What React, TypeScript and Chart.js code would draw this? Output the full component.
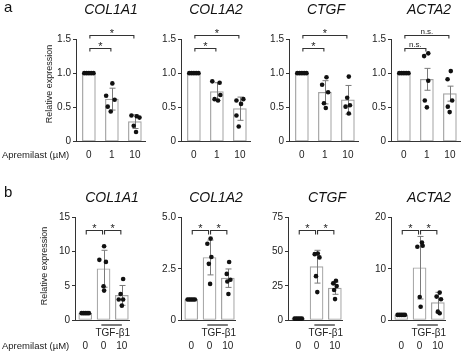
import React, { useEffect, useRef } from "react";
import { Chart, registerables } from "chart.js";
Chart.register(...registerables);

const FONT = '"Liberation Sans", Arial, Helvetica, sans-serif';

// ---------- shared categories ----------
const doseLabels = ["0", "1", "10"];
const tgfDoseLabels = ["0", "0", "10"];
const ctrlJitter = [-0.2, -0.1, 0, 0.1, 0.2];

// ---------- panel a (Apremilast only) ----------
const aTicks = [0, 0.5, 1.0, 1.5];
const aTickLabels = ["0", "0.5", "1.0", "1.5"];
const aSig = [[0, 1, "*"], [0, 2, "*"]];
const aNs = [[0, 1, "n.s."], [0, 2, "n.s."]];

const aCol1a1Mean = [1.0, 0.62, 0.29];
const aCol1a1Err = [0, 0.16, 0.1];
const aCol1a1Pts = [[1, 1, 1, 1, 1], [0.85, 0.67, 0.61, 0.51, 0.44], [0.38, 0.37, 0.35, 0.23, 0.14]];
const aCol1a1Jit = [ctrlJitter, [0.02, -0.25, 0.12, -0.18, -0.05], [-0.15, 0.08, 0.2, -0.05, 0.05]];

const aCol1a2Mean = [1.0, 0.73, 0.48];
const aCol1a2Err = [0, 0.13, 0.17];
const aCol1a2Pts = [[1, 1, 1, 1, 1], [0.88, 0.86, 0.68, 0.62, 0.6], [0.62, 0.6, 0.55, 0.38, 0.22]];
const aCol1a2Jit = [ctrlJitter, [-0.2, 0.12, 0.15, -0.1, 0.05], [0.15, -0.15, 0.05, -0.15, -0.05]];

const aCtgfMean = [1.0, 0.72, 0.61];
const aCtgfErr = [0, 0.17, 0.21];
const aCtgfPts = [[1, 1, 1, 1, 1], [0.94, 0.83, 0.72, 0.56, 0.49], [0.95, 0.64, 0.53, 0.51, 0.41]];
const aCtgfJit = [ctrlJitter, [0.07, -0.12, 0.14, -0.04, 0.04], [0.04, -0.03, 0.09, -0.1, 0.04]];

const aActa2Mean = [1.0, 0.91, 0.7];
const aActa2Err = [0, 0.16, 0.11];
const aActa2Pts = [[1, 1, 1, 1, 1], [1.25, 1.29, 0.89, 0.6, 0.5], [1.03, 0.91, 0.6, 0.51, 0.43]];
const aActa2Jit = [ctrlJitter, [-0.12, 0.06, 0.06, -0.09, 0], [0.04, -0.1, 0.1, -0.09, -0.01]];

// ---------- panel b (TGF-β1 ± Apremilast) ----------
const bSig = [[0, 1, "*"], [1, 2, "*"]];

const bCol1a1Ticks = [0, 5, 10, 15];
const bCol1a1TickLabels = ["0", "5", "10", "15"];
const bCol1a1Mean = [1.0, 7.5, 3.6];
const bCol1a1Err = [0, 2.7, 1.45];
const bCol1a1Pts = [[1, 1, 1, 1, 1], [8.8, 8.5, 10.8, 4.95, 4.3], [6.0, 3.8, 3.0, 3.0, 2.1]];
const bCol1a1Jit = [ctrlJitter, [-0.23, 0.13, 0.03, 0, 0.03], [0.07, -0.07, -0.17, 0.07, 0]];

const bCol1a2Ticks = [0, 2.5, 5];
const bCol1a2TickLabels = ["0", "2.5", "5.0"];
const bCol1a2Mean = [1.0, 3.05, 2.04];
const bCol1a2Err = [0, 0.85, 0.45];
const bCol1a2Pts = [[1, 1, 1, 1, 1], [3.72, 3.97, 3.07, 2.74, 1.76], [2.83, 2.25, 1.96, 1.88, 1.27]];
const bCol1a2Jit = [ctrlJitter, [-0.12, 0.06, 0.1, -0.04, 0.03], [0.07, -0.06, 0.14, -0.03, 0.03]];

const bCtgfTicks = [0, 25, 50, 75];
const bCtgfTickLabels = ["0", "25", "50", "75"];
const bCtgfMean = [1.0, 39, 23.3];
const bCtgfErr = [0, 12, 4.5];
const bCtgfPts = [[1, 1, 1, 1, 1], [48.2, 48.7, 45.8, 32.1, 20.4], [28.7, 26.8, 24.8, 21.9, 15.3]];
const bCtgfJit = [ctrlJitter, [-0.1, 0.07, 0.16, -0.03, 0.04], [0.06, -0.09, 0.1, -0.04, 0.01]];

const bActa2Ticks = [0, 10, 20];
const bActa2TickLabels = ["0", "10", "20"];
const bActa2Mean = [1.0, 10.2, 3.4];
const bActa2Err = [0, 6.1, 2.0];
const bActa2Pts = [[1, 1, 1, 1, 1], [15.1, 14.3, 14.5, 4.5, 2.6], [5.35, 4.57, 4.05, 1.63, 1.31]];
const bActa2Jit = [ctrlJitter, [0.13, -0.12, 0.17, 0.01, 0.06], [0.1, -0.07, 0.17, 0, 0.1]];

// ---------- layout (positions / styles) ----------
const ROW_H = 176;
const Y_AXIS_W = 30;
const AREA_W = 69;
const RIGHT_PAD = 4;

type Spec = {
  title: string;
  axisX: number;
  rowTop: number;
  chartTop: number;
  chartBottom: number;
  xPad: number;
  yTicks: number[];
  yLabels: string[];
  xLabels: string[];
  mean: number[];
  err: number[];
  pts: number[][];
  jit: number[][];
  sig: any[];
  levels: number[];
  hook: number;
  tgf: boolean;
};

const aBase = { rowTop: 0, chartTop: 39, chartBottom: 141.5, xPad: 7.5, yTicks: aTicks, yLabels: aTickLabels, xLabels: doseLabels, levels: [0.917, 1.035], hook: 3, tgf: false };
const bBase = { rowTop: 176, chartTop: 41.5, chartBottom: 144, xPad: 20, xLabels: tgfDoseLabels, sig: bSig, levels: [0.88, 0.88], hook: 4, tgf: true };

const specs: Spec[] = [
  { ...aBase, title: "COL1A1", axisX: 75.5, mean: aCol1a1Mean, err: aCol1a1Err, pts: aCol1a1Pts, jit: aCol1a1Jit, sig: aSig },
  { ...aBase, title: "COL1A2", axisX: 181, mean: aCol1a2Mean, err: aCol1a2Err, pts: aCol1a2Pts, jit: aCol1a2Jit, sig: aSig },
  { ...aBase, title: "CTGF", axisX: 288.5, mean: aCtgfMean, err: aCtgfErr, pts: aCtgfPts, jit: aCtgfJit, sig: aSig },
  { ...aBase, title: "ACTA2", axisX: 391, mean: aActa2Mean, err: aActa2Err, pts: aActa2Pts, jit: aActa2Jit, sig: aNs },
  { ...bBase, title: "COL1A1", axisX: 74.5, yTicks: bCol1a1Ticks, yLabels: bCol1a1TickLabels, mean: bCol1a1Mean, err: bCol1a1Err, pts: bCol1a1Pts, jit: bCol1a1Jit },
  { ...bBase, title: "COL1A2", axisX: 181, yTicks: bCol1a2Ticks, yLabels: bCol1a2TickLabels, mean: bCol1a2Mean, err: bCol1a2Err, pts: bCol1a2Pts, jit: bCol1a2Jit },
  { ...bBase, title: "CTGF", axisX: 288, yTicks: bCtgfTicks, yLabels: bCtgfTickLabels, mean: bCtgfMean, err: bCtgfErr, pts: bCtgfPts, jit: bCtgfJit },
  { ...bBase, title: "ACTA2", axisX: 391, yTicks: bActa2Ticks, yLabels: bActa2TickLabels, mean: bActa2Mean, err: bActa2Err, pts: bActa2Pts, jit: bActa2Jit },
];

const titlePos = [
  [111, 8.5], [216, 8.5], [326, 8.5], [429, 8.5],
  [112, 197], [216, 197], [327, 197], [429, 197],
];

function Panel({ s }: { s: Spec }) {
  const ref = useRef<HTMLCanvasElement>(null);
  useEffect(() => {
    const canvas = ref.current!;
    const yMax = s.yTicks[s.yTicks.length - 1];
    const barData = s.mean.map((m, i) => ({ x: i, y: m }));
    const ptData = s.pts.flatMap((arr, i) => arr.map((v, j) => ({ x: i + s.jit[i][j], y: v })));

    const overlay = {
      id: "overlay",
      afterDatasetDraw(chart: any, args: any) {
        if (args.meta.type !== "bar") return;
        const { ctx } = chart;
        const xs = chart.scales.x;
        const ys = chart.scales.y;
        ctx.save();
        ctx.strokeStyle = "#7a7a7a";
        ctx.lineWidth = 1;
        s.mean.forEach((m, i) => {
          const e = s.err[i];
          if (!e) return;
          const px = Math.round(xs.getPixelForValue(i)) + 0.5;
          const top = ys.getPixelForValue(m + e);
          const bot = ys.getPixelForValue(Math.max(0, m - e));
          ctx.beginPath();
          ctx.moveTo(px, top);
          ctx.lineTo(px, bot);
          ctx.moveTo(px - 3, top);
          ctx.lineTo(px + 3, top);
          ctx.moveTo(px - 3, bot);
          ctx.lineTo(px + 3, bot);
          ctx.stroke();
        });
        ctx.restore();
      },
      afterDraw(chart: any) {
        const { ctx, chartArea } = chart;
        const xs = chart.scales.x;
        const ys = chart.scales.y;
        ctx.save();
        ctx.strokeStyle = "#333";
        ctx.fillStyle = "#222";
        ctx.lineWidth = 1.1;
        s.sig.forEach((b: any, k: number) => {
          const [from, to, label] = b;
          const py = Math.round(ys.getPixelForValue(s.levels[k] * yMax)) + 0.5;
          const x1 = xs.getPixelForValue(from) + 1;
          const x2 = xs.getPixelForValue(to) - 1;
          ctx.beginPath();
          ctx.moveTo(x1, py + s.hook);
          ctx.lineTo(x1, py);
          ctx.lineTo(x2, py);
          ctx.lineTo(x2, py + s.hook);
          ctx.stroke();
          ctx.textAlign = "center";
          ctx.textBaseline = "alphabetic";
          if (label === "*") {
            ctx.font = `11px ${FONT}`;
            ctx.fillText(label, (x1 + x2) / 2, py + 1.5);
          } else {
            ctx.font = `8px ${FONT}`;
            ctx.fillText(label, (x1 + x2) / 2, py - 2);
          }
        });
        if (s.tgf) {
          const y0 = chartArea.bottom;
          const l1 = xs.getPixelForValue(1 - 0.12);
          const l2 = xs.getPixelForValue(2);
          ctx.strokeStyle = "#444";
          ctx.lineWidth = 1.4;
          ctx.beginPath();
          ctx.moveTo(l1, y0 + 5);
          ctx.lineTo(l2, y0 + 5);
          ctx.stroke();
          ctx.font = `10px ${FONT}`;
          ctx.textAlign = "center";
          ctx.textBaseline = "middle";
          ctx.fillText("TGF-\u03b21", (xs.getPixelForValue(1) + xs.getPixelForValue(2)) / 2, y0 + 13);
        }
        ctx.restore();
      },
    };

    const chart = new Chart(canvas, {
      type: "bar",
      data: {
        datasets: [
          {
            type: "bar",
            data: barData as any,
            backgroundColor: "#ffffff",
            borderColor: "#a3a3a3",
            borderWidth: 1.2,
            borderSkipped: false,
            barThickness: 13,
            order: 2,
          } as any,
          {
            type: "scatter",
            data: ptData as any,
            backgroundColor: "#111111",
            borderWidth: 0,
            pointRadius: 2.3,
            order: 1,
            clip: false,
          } as any,
        ],
      },
      options: {
        animation: false,
        responsive: false,
        events: [],
        layout: { padding: { top: s.chartTop, right: RIGHT_PAD, left: 0, bottom: 0 } },
        plugins: { legend: { display: false }, tooltip: { enabled: false }, title: { display: false } },
        scales: {
          x: {
            type: "linear",
            min: -0.56,
            max: 2.44,
            offset: false,
            afterBuildTicks: (sc: any) => {
              sc.ticks = [0, 1, 2].map((v) => ({ value: v }));
            },
            afterFit: (sc: any) => {
              sc.height = ROW_H - s.chartBottom;
            },
            grid: { display: false, drawTicks: false },
            border: { display: true, color: "#333", width: 1 },
            ticks: {
              padding: s.xPad,
              color: "#222",
              autoSkip: false,
              maxRotation: 0,
              font: { size: 10, family: FONT },
              callback: (v: any) => s.xLabels[v],
            },
          },
          y: {
            type: "linear",
            min: 0,
            max: yMax,
            afterBuildTicks: (sc: any) => {
              sc.ticks = s.yTicks.map((v) => ({ value: v }));
            },
            afterFit: (sc: any) => {
              sc.width = Y_AXIS_W;
            },
            grid: { display: true, drawOnChartArea: false, drawTicks: true, tickLength: 3, color: "#333" },
            border: { display: true, color: "#333", width: 1 },
            ticks: {
              padding: 2,
              color: "#222",
              font: { size: 10, family: FONT },
              callback: (v: any) => s.yLabels[s.yTicks.indexOf(v)],
            },
          },
        },
      } as any,
      plugins: [overlay as any],
    });
    return () => chart.destroy();
  }, []);
  return (
    <canvas
      ref={ref}
      width={Y_AXIS_W + AREA_W + RIGHT_PAD}
      height={ROW_H}
      style={{ position: "absolute", left: s.axisX - Y_AXIS_W, top: s.rowTop }}
    />
  );
}

const txt: React.CSSProperties = {
  position: "absolute",
  fontFamily: FONT,
  color: "#222",
  lineHeight: 1,
  whiteSpace: "nowrap",
};

export default function App() {
  return (
    <div style={{ position: "absolute", left: 0, top: 0, width: 474, height: 352, background: "#fff", overflow: "hidden" }}>
      {specs.map((s, i) => (
        <Panel key={i} s={s} />
      ))}
      {specs.map((s, i) => (
        <div
          key={"t" + i}
          style={{ ...txt, fontSize: 14, fontStyle: "italic", left: titlePos[i][0], top: titlePos[i][1], transform: "translate(-50%,-50%)", color: "#111" }}
        >
          {s.title}
        </div>
      ))}
      <div style={{ ...txt, fontSize: 15, left: 4, top: -1, color: "#111" }}>a</div>
      <div style={{ ...txt, fontSize: 15, left: 4, top: 183.5, color: "#111" }}>b</div>
      <div style={{ ...txt, fontSize: 9.5, left: 2, top: 155, transform: "translate(0,-50%)" }}>Apremilast (µM)</div>
      <div style={{ ...txt, fontSize: 9.5, left: 2, top: 346, transform: "translate(0,-50%)" }}>Apremilast (µM)</div>
      <div style={{ ...txt, fontSize: 9, left: 49, top: 84, transform: "translate(-50%,-50%) rotate(-90deg)" }}>Relative expression</div>
      <div style={{ ...txt, fontSize: 9, left: 43.5, top: 266, transform: "translate(-50%,-50%) rotate(-90deg)" }}>Relative expression</div>
    </div>
  );
}
